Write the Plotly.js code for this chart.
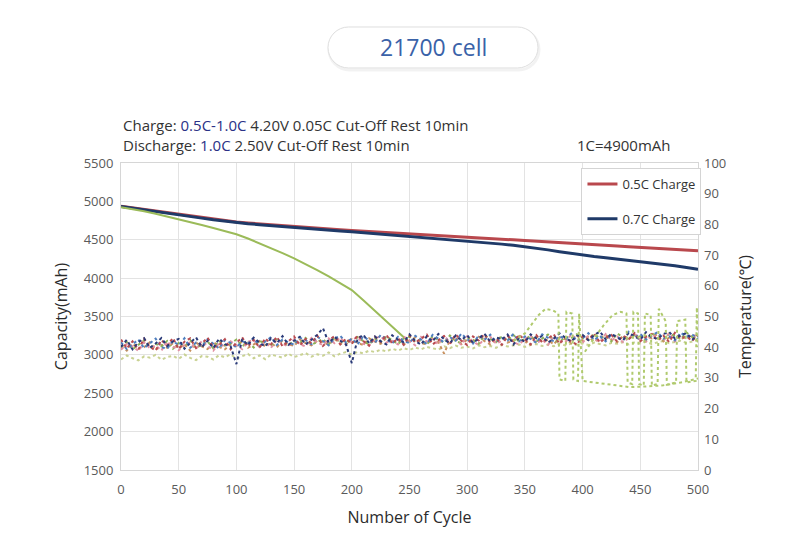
<!DOCTYPE html>
<html>
<head>
<meta charset="utf-8">
<script src="https://cdn.plot.ly/plotly-3.0.1.min.js"></script>
<style>
  html, body { margin: 0; padding: 0; background: #ffffff; }
  #chart { width: 800px; height: 547px; }
</style>
</head>
<body>
<div id="chart"></div>
<script>
// ---- capacity (mAh) per cycle ----
const capCycles = [0,10,20,30,40,50,60,70,80,90,100,110,120,130,140,150,160,170,180,190,200,
  210,220,230,240,250,260,270,280,290,300,310,320,330,340,350,360,370,380,390,400,
  410,420,430,440,450,460,470,480,490,500];

const cap05C = [4935,4915,4893,4872,4851,4831,4810,4790,4768,4749,4731,
  4718,4706,4694,4682,4671,4660,4650,4639,4630,4620,
  4612,4604,4596,4588,4580,4571,4563,4553,4545,4536,
  4527,4518,4509,4499,4490,4480,4470,4461,4451,4442,
  4434,4426,4418,4410,4402,4393,4384,4375,4366,4357];

const cap07C = [4935,4912,4889,4867,4845,4825,4803,4782,4761,4741,4722,
  4709,4697,4684,4672,4660,4648,4637,4626,4615,4604,
  4592,4580,4568,4556,4545,4534,4522,4511,4499,4488,
  4474,4459,4443,4427,4410,4390,4368,4345,4322,4300,
  4282,4265,4249,4232,4215,4198,4184,4162,4138,4115];

const capGreenCycles = [0,10,20,30,40,50,60,70,80,90,100,110,120,130,140,150,160,170,180,190,200,210,220,230,240,250];
const capGreen = [4925,4900,4870,4838,4803,4767,4730,4692,4652,4612,4571,4516,4455,4390,4325,4258,
  4183,4105,4022,3935,3845,3712,3575,3435,3295,3160];

// ---- cell temperature (°C) per cycle ----
const tempCycles = [0,5,10,15,20,25,30,35,40,45,50,55,60,65,70,75,80,85,90,95,
  100,105,110,115,120,125,130,135,140,145,150,155,160,165,170,175,180,185,190,195,
  200,205,210,215,220,225,230,235,240,245,250,255,260,265,270,275,280,285,290,295,
  300,305,310,315,320,325,330,335,340,345,350,355,360,365,370,375,380,385,390,395,
  400,405,410,415,420,425,430,435,440,445,450,455,460,465,470,475,480,485,490,495,500];

const tempRed = [42.5,39.6,41.9,39.2,42.8,40.1,38.9,42.3,40.6,43.0,
  39.4,41.8,42.9,39.7,41.2,43.1,39.9,40.7,42.6,39.3,
  41.5,43.2,40.2,42.4,39.8,42.9,41.0,43.4,40.3,42.0,
  43.5,40.6,42.7,41.3,43.8,40.4,42.2,43.6,40.9,42.8,
  41.1,43.9,42.0,40.5,43.4,41.7,44.0,41.2,42.9,40.8,
  43.8,41.5,42.7,44.1,40.9,42.4,43.6,41.0,44.2,42.1,
  40.7,43.5,42.2,44.3,41.4,42.9,40.8,43.7,41.9,44.0,
  42.3,40.9,43.9,41.6,42.8,44.2,41.1,43.3,42.0,40.8,
  43.6,42.4,44.5,41.5,43.1,44.0,41.8,43.7,42.6,44.6,
  41.9,43.4,44.3,42.2,43.8,41.7,44.7,42.9,43.5,42.0,44.1];

const tempNavy = [40.1,42.4,39.3,41.6,42.9,39.8,41.2,43.0,40.4,41.9,
  42.7,39.5,41.4,43.2,40.0,42.1,39.7,42.8,41.0,40.3,
  34.5,42.6,40.7,43.1,41.5,40.2,42.9,41.3,43.6,40.8,
  42.1,43.4,40.9,42.6,44.0,46.2,41.4,43.3,42.2,40.9,
  34.8,42.7,44.1,41.3,43.5,42.0,40.9,43.9,42.4,41.6,
  44.2,42.0,40.8,43.6,41.9,44.3,42.6,41.2,43.8,42.3,
  43.9,41.4,42.8,44.4,41.8,43.2,42.5,44.1,40.9,43.0,
  41.7,44.2,42.9,43.6,41.5,42.8,44.5,43.0,41.8,43.7,
  44.0,42.3,43.9,45.1,42.6,44.4,43.1,42.2,44.7,43.5,
  42.4,44.9,43.2,42.7,44.3,45.0,42.8,43.9,44.6,42.5,43.8];

const tempBlue = [41.6,39.4,40.9,42.5,39.7,41.3,42.8,40.0,39.5,42.1,
  40.6,42.9,39.8,41.5,40.2,42.6,41.0,39.6,42.3,41.4,
  39.9,42.0,41.2,43.0,40.4,41.8,43.3,40.7,42.5,41.6,
  40.8,43.1,42.3,41.0,43.5,42.0,40.6,42.9,43.7,41.5,
  42.8,40.9,43.6,42.1,41.4,44.0,42.6,41.2,43.4,42.0,
  41.3,43.7,42.5,41.0,44.0,42.8,41.6,43.3,42.1,44.4,
  42.6,41.2,43.8,42.4,44.1,41.7,43.0,42.2,44.3,41.9,
  43.5,42.7,41.4,44.2,43.1,41.9,43.6,42.5,44.4,42.0,
  42.9,44.6,42.3,43.7,41.9,44.2,43.3,42.6,45.0,43.1,
  44.3,42.5,43.8,44.9,42.8,43.5,42.2,44.7,43.4,44.1,42.9];

const tempPink = [39.2,41.0,40.3,38.8,41.5,39.7,40.6,38.9,41.8,40.2,
  39.0,40.8,41.6,39.5,42.0,40.4,38.9,41.3,40.1,41.9,
  40.6,39.4,41.8,42.3,40.0,41.5,39.8,42.4,41.1,40.3,
  42.6,41.0,40.2,43.0,41.6,40.7,42.9,41.3,43.2,40.8,
  42.2,43.4,41.1,40.6,42.8,43.6,41.5,42.1,40.9,43.5,
  42.0,40.6,43.3,41.8,42.7,40.9,43.9,41.4,42.5,40.8,
  43.6,41.9,40.7,42.8,43.4,41.2,42.0,44.0,41.6,40.9,
  42.7,43.8,41.3,42.4,40.8,43.5,42.1,41.5,44.1,42.6,
  41.4,43.9,42.8,41.7,44.3,42.2,43.5,41.6,43.0,44.5,
  42.4,41.8,44.0,43.2,42.1,44.6,41.9,43.7,42.8,44.2,43.3];

const tempBrown = [40.4,38.9,41.2,39.5,40.0,41.6,39.1,40.7,39.8,41.3,
  39.6,40.9,38.9,41.5,40.3,39.4,41.8,40.1,39.3,41.0,
  40.5,41.9,39.8,40.9,42.0,40.2,41.4,39.9,42.3,41.0,
  40.4,42.5,41.3,40.6,42.1,41.7,40.8,42.7,41.2,40.9,
  42.6,41.4,40.7,42.9,41.8,41.1,43.0,41.5,42.4,40.8,
  42.2,43.1,41.3,40.9,42.8,41.6,37.9,42.3,43.2,41.0,
  42.5,41.4,43.4,42.0,40.9,42.7,43.3,41.5,42.2,43.6,
  41.2,42.8,43.5,41.7,42.4,40.9,43.2,42.6,41.4,43.8,
  42.1,43.4,41.8,42.9,44.0,42.5,41.6,43.7,42.8,44.1,
  42.3,43.6,42.9,44.4,41.9,43.1,44.2,42.6,43.5,42.8,43.9];

const tempGreen = [40.0,41.7,39.3,40.8,42.2,39.7,41.1,40.3,42.0,39.5,
  41.4,40.1,42.3,39.8,40.9,41.9,39.6,42.1,40.5,41.2,
  42.5,40.3,41.5,39.9,42.2,41.0,40.4,42.7,41.3,40.6,
  42.0,41.4,43.0,40.8,41.7,42.6,40.9,43.1,41.6,42.3,
  41.2,43.3,42.0,40.9,42.8,41.6,43.5,42.2,41.0,42.9,
  43.4,41.7,42.5,40.9,43.6,42.3,41.5,43.8,42.0,41.3,
  43.2,42.4,41.1,43.9,42.7,41.6,43.5,42.1,44.0,41.8,
  42.6,43.7,41.9,42.8,44.1,42.2,41.7,43.4,42.9,44.2,
  43.0,42.4,44.3,42.8,43.6,41.9,44.5,43.2,42.7,44.0,
  43.5,42.3,44.6,43.0,42.5,44.4,43.7,42.6,44.8,43.3,44.2];

const tempLight = [36.0,37.3,36.4,35.7,37.0,36.6,37.5,35.9,36.8,37.2,
  36.2,37.6,36.5,35.8,37.1,36.9,36.0,37.4,36.7,37.7,
  36.3,37.0,37.8,36.4,37.3,36.1,37.6,37.1,36.6,37.9,
  36.8,37.4,38.1,36.9,37.7,37.2,38.3,37.0,37.9,38.4,
  37.6,38.5,38.0,38.9,38.4,39.2,38.6,39.5,38.9,39.7,
  39.1,39.9,39.3,40.1,39.6,39.2,40.3,39.7,40.5,39.8,
  40.2,39.6,40.6,40.0,40.4,39.8,40.8,40.2,40.6,40.9,
  40.1,40.7,41.0,40.4,40.9,40.3,41.2,40.6,41.1,40.8,
  41.3,40.7,41.5,41.0,40.6,41.4,41.1,41.7,40.9,41.5,
  41.2,41.8,41.0,41.6,42.0,41.3,41.7,42.1,41.4,41.9,42.2];

// late-life cells swinging between rest and charge temperatures
const swingACycles = [340,350,356,362,368,374,379,380,385,386,391,392,396,397,400,410,420,430,441,455,470,485,500];
const swingATemp   = [42.0,44.5,47.5,50.5,52.5,52.0,51.0,29.5,29.0,51.5,51.0,29.5,29.0,51.0,29.0,28.5,28.0,27.5,27.0,27.2,27.6,28.5,29.8];

const swingBCycles = [402,410,418,426,433,438,439,443,444,448,449,453,454,459,460,465,466,472,473,481,482,489,490,498,499,500];
const swingBTemp   = [38.5,43.0,47.0,50.5,51.5,51.0,28.5,28.0,51.5,51.0,28.0,27.5,51.0,50.5,27.5,28.0,52.5,48.5,27.8,28.5,48.5,49.0,28.5,29.0,53.0,40.0];

// ---- plot geometry helpers (pixel -> paper) ----
const PL = 121, PR = 698, PT = 163, PB = 470;
const px = x => (x - PL) / (PR - PL);
const py = y => (PB - y) / (PB - PT);

function stadiumPath(x0, y0, x1, y1) {
  const r = (y1 - y0) / 2, k = 0.5523 * r;
  const P = (x, y) => px(x).toFixed(5) + ',' + py(y).toFixed(5);
  return 'M' + P(x0 + r, y0) + ' L' + P(x1 - r, y0) +
    ' C' + P(x1 - r + k, y0) + ' ' + P(x1, y0 + r - k) + ' ' + P(x1, y0 + r) +
    ' C' + P(x1, y1 - r + k) + ' ' + P(x1 - r + k, y1) + ' ' + P(x1 - r, y1) +
    ' L' + P(x0 + r, y1) +
    ' C' + P(x0 + r - k, y1) + ' ' + P(x0, y1 - r + k) + ' ' + P(x0, y1 - r) +
    ' C' + P(x0, y0 + r - k) + ' ' + P(x0 + r - k, y0) + ' ' + P(x0 + r, y0) + ' Z';
}

const FONT = '"Open Sans", "Noto Sans", sans-serif';

function tempTrace(x, y, color, width) {
  return { x: x, y: y, yaxis: 'y2', type: 'scatter', mode: 'lines',
    line: { color: color, width: width || 2, dash: 'dot' },
    showlegend: false, hoverinfo: 'skip' };
}

const traces = [
  { x: capCycles, y: cap05C, name: '0.5C Charge', type: 'scatter', mode: 'lines',
    line: { color: '#b9484d', width: 3 }, legendgroup: 'a' },
  { x: capCycles, y: cap07C, name: '0.7C Charge', type: 'scatter', mode: 'lines',
    line: { color: '#1f3a68', width: 3 }, legendgroup: 'b' },
  { x: capGreenCycles, y: capGreen, name: 'cell 3', type: 'scatter', mode: 'lines',
    line: { color: '#9bbb59', width: 2 }, showlegend: false },
  tempTrace(tempCycles, tempLight, '#c9d293'),
  tempTrace(tempCycles, tempBrown, '#c8915f'),
  tempTrace(tempCycles, tempGreen, '#8cb255'),
  tempTrace(tempCycles, tempPink, '#e291a3'),
  tempTrace(tempCycles, tempBlue, '#4f7fbf'),
  tempTrace(tempCycles, tempRed, '#b94a4f'),
  tempTrace(tempCycles, tempNavy, '#2a3a78'),
  tempTrace(swingACycles, swingATemp, '#b0ca6e', 2),
  tempTrace(swingBCycles, swingBTemp, '#b0ca6e', 2)
];

const axisCommon = {
  showgrid: true, gridcolor: '#e3e3e3', gridwidth: 1,
  showline: true, linecolor: '#d6d6d6', linewidth: 1, mirror: true,
  ticks: '', zeroline: false,
  tickfont: { family: FONT, size: 13, color: '#5a5a5a' }
};

const layout = {
  width: 800, height: 547,
  margin: { l: PL, r: 800 - PR, t: PT, b: 547 - PB, pad: 0 },
  paper_bgcolor: '#ffffff', plot_bgcolor: '#ffffff',
  font: { family: FONT, color: '#333333' },
  xaxis: Object.assign({}, axisCommon, {
    range: [0, 500], dtick: 50, tick0: 0, ticklabelstandoff: 7,
    title: { text: 'Number of Cycle', font: { family: FONT, size: 16, color: '#2b2b2b' }, standoff: 15 }
  }),
  yaxis: Object.assign({}, axisCommon, {
    range: [1500, 5500], dtick: 500, tick0: 1500, ticklabelstandoff: 4,
    title: { text: 'Capacity(mAh)', font: { family: FONT, size: 16, color: '#2b2b2b' }, standoff: 12 }
  }),
  yaxis2: {
    overlaying: 'y', side: 'right', range: [0, 100], dtick: 10, tick0: 0,
    showgrid: false, zeroline: false, showline: false, ticks: '', ticklabelstandoff: 5,
    tickfont: { family: FONT, size: 13, color: '#5a5a5a' },
    title: { text: 'Temperature(℃)', font: { family: FONT, size: 16, color: '#2b2b2b' }, standoff: 14 }
  },
  legend: {
    x: 1.006, xanchor: 'right', y: py(168), yanchor: 'top',
    bgcolor: '#ffffff', bordercolor: '#d4d4d4', borderwidth: 1,
    font: { family: FONT, size: 13, color: '#333333' },
    tracegroupgap: 15, itemwidth: 30
  },
  shapes: [
    { type: 'path', xref: 'paper', yref: 'paper', path: stadiumPath(329, 29, 539, 70),
      line: { color: 'rgba(0,0,0,0.05)', width: 3 }, fillcolor: 'rgba(0,0,0,0)' },
    { type: 'path', xref: 'paper', yref: 'paper', path: stadiumPath(328, 27, 538, 68),
      line: { color: '#dedede', width: 1 }, fillcolor: '#ffffff' }
  ],
  annotations: [
    { xref: 'paper', yref: 'paper', x: px(433), y: py(47), xanchor: 'center', yanchor: 'middle',
      text: '21700 cell', showarrow: false, font: { family: FONT, size: 23, color: '#3a62a8' } },
    { xref: 'paper', yref: 'paper', x: px(121), y: py(125), xanchor: 'left', yanchor: 'middle',
      text: 'Charge: <span style="color:#2a3186">0.5C-1.0C</span> 4.20V 0.05C Cut-Off Rest 10min',
      showarrow: false, font: { family: FONT, size: 15, color: '#333333' } },
    { xref: 'paper', yref: 'paper', x: px(121), y: py(145), xanchor: 'left', yanchor: 'middle',
      text: 'Discharge: <span style="color:#2a3186">1.0C</span> 2.50V Cut-Off Rest 10min',
      showarrow: false, font: { family: FONT, size: 15, color: '#333333' } },
    { xref: 'paper', yref: 'paper', x: px(575), y: py(145), xanchor: 'left', yanchor: 'middle',
      text: '1C=4900mAh', showarrow: false, font: { family: FONT, size: 15, color: '#333333' } }
  ]
};

Plotly.newPlot('chart', traces, layout, { displayModeBar: false, staticPlot: true });
</script>
</body>
</html>
